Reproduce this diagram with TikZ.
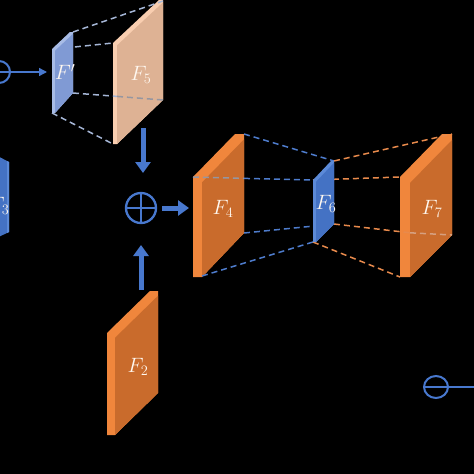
\documentclass[tikz,border=0pt]{standalone}
\usetikzlibrary{arrows.meta}
\definecolor{orside}{RGB}{240,134,60}
\definecolor{orfront}{RGB}{201,107,44}
\definecolor{blside}{RGB}{92,138,216}
\definecolor{blfront}{RGB}{68,114,196}
\definecolor{pcside}{RGB}{249,206,176}
\definecolor{pcfront}{RGB}{222,178,148}
\definecolor{ltside}{RGB}{168,188,230}
\definecolor{ltfront}{RGB}{128,154,212}
\definecolor{arrowblue}{RGB}{72,120,206}
\definecolor{dashblue}{RGB}{78,124,204}
\definecolor{dashorange}{RGB}{232,138,76}
\definecolor{dashlight}{RGB}{165,182,214}
\definecolor{dashgray}{RGB}{150,150,160}
\definecolor{dashfaceor}{RGB}{214,160,128}
\definecolor{labelwhite}{RGB}{255,248,240}
\newcommand\myslab[9]{%
  \fill[#8] (#1,#4) -- ({#3-(#2-#1)},#6) -- (#3,#6) -- (#3,#7) -- (#2,#5) -- (#1,#5) -- cycle;
  \fill[#9] (#2,{#4+0.6*(#2-#1)}) -- (#3,{#6+0.6*(#2-#1)}) -- (#3,#7) -- (#2,#5) -- cycle;}
\begin{document}
\begin{tikzpicture}[x=1pt,y=-1pt,
  dashl/.style={line width=1.5pt,dash pattern=on 6pt off 4pt},
  bigarrow/.style={line width=5pt,draw=arrowblue,-{Triangle[length=11pt,width=15pt,fill=arrowblue]}},
  thinarrow/.style={line width=1.4pt,draw=arrowblue,-{Triangle[length=8pt,width=8pt,fill=arrowblue]}},
  ring/.style={line width=2.3pt,draw=arrowblue},
  lab/.style={text=labelwhite,font=\fontsize{20}{24}\selectfont,inner sep=0pt}]
\useasboundingbox (0,0) rectangle (474,474);
\fill[black] (0,0) rectangle (474,474);

% ---------- F5 and F'
\myslab{113}{117}{163}{43}{144}{0}{100}{pcside}{pcfront}
\coordinate (p1) at (73,32);   \coordinate (q1) at (163,1);
\coordinate (p2) at (55,49);   \coordinate (q2) at (113,43);
\coordinate (p3) at (73,93);   \coordinate (q3m) at (117,96.4); \coordinate (q3) at (163,100);
\coordinate (p4) at (52,113);  \coordinate (q4) at (113,144);
\draw[dashl,dashlight] (p1) -- (q1);
\draw[dashl,dashlight] (p2) -- (q2);
\draw[dashl,dashlight] (p3) -- (q3m);
\draw[dashl,dashgray] (q3m) -- (q3);
\draw[dashl,dashlight] (p4) -- (q4);
\myslab{52}{55}{73}{49}{113}{32}{93}{ltside}{ltfront}
\node[lab] (fprime) at (65,72) {$F'$};
\node[lab] (f5) at (141,75) {$F_5$};

% ---------- F3 (cut off at the left edge, as in the reference)
\fill[blfront] (-12,151) -- (9,162) -- (9,232) -- (-12,242) -- cycle;
\fill[blside] (7,161) -- (9,162) -- (9,232) -- (7,233) -- cycle;
\node[lab] (f3) at (-1,206) {$F_3$};

% ---------- F4, F7, F6
\myslab{193}{202}{244}{177}{277}{134}{233}{orside}{orfront}
\myslab{400}{410}{452}{177}{277}{134}{235}{orside}{orfront}
\coordinate (a1) at (244,134); \coordinate (b1) at (334,161);
\coordinate (a2) at (193,177); \coordinate (a2m) at (244,178.4); \coordinate (b2) at (313,180);
\coordinate (a3) at (244,233); \coordinate (b3) at (334,224);
\coordinate (a4) at (202,276); \coordinate (b4) at (313,242);
\coordinate (c1) at (452,134);
\coordinate (c2) at (400,177);
\coordinate (c3m) at (410,232.8); \coordinate (c3) at (452,235);
\coordinate (c4) at (400,277);
\draw[dashl,dashgray] (a2) -- (a2m);
\draw[dashl,dashblue] (a2m) -- (b2);
\draw[dashl,dashblue] (a1) -- (b1);
\draw[dashl,dashblue] (a3) -- (b3);
\draw[dashl,dashblue] (a4) -- (b4);
\draw[dashl,dashorange] (b1) -- (c1);
\draw[dashl,dashorange] (b2) -- (c2);
\draw[dashl,dashorange] (b3) -- (c3m);
\draw[dashl,dashfaceor] (c3m) -- (c3);
\draw[dashl,dashorange] (b4) -- (c4);
\myslab{313}{316}{334}{180}{242}{161}{224}{blside}{blfront}
\node[lab] (f4) at (223,209) {$F_4$};
\node[lab] (f6) at (326,204) {$F_6$};
\node[lab] (f7) at (432,209) {$F_7$};

% ---------- F2
\myslab{107}{115}{158}{333}{435}{291}{393}{orside}{orfront}
\node[lab] (f2) at (138,367) {$F_2$};

% ---------- oplus and arrows
\coordinate (plus) at (141,208);
\draw[ring] (plus) circle (15);
\draw[ring] (126,208) -- (156,208);
\draw[ring] (141,193) -- (141,223);
\coordinate (d0) at (143,128); \coordinate (d1) at (143,173);
\coordinate (u0) at (141,290); \coordinate (u1) at (141,245);
\coordinate (r0) at (162,208); \coordinate (r1) at (189,208);
\draw[bigarrow] (d0) -- (d1);
\draw[bigarrow] (u0) -- (u1);
\draw[bigarrow] (r0) -- (r1);

% ---------- minus circles
\coordinate (m1) at (-1,72);
\draw[ring,line width=2pt] (m1) circle (11);
\coordinate (t1) at (47,72);
\draw[thinarrow] (m1) ++(-11,0) coordinate (m1l) -- (t1);
\coordinate (m2) at (436,387);
\draw[ring,line width=2pt] (m2) ellipse (12 and 11);
\coordinate (m2l) at (424,387); \coordinate (m2r) at (474,387);
\draw[line width=1.4pt,arrowblue] (m2l) -- (m2r);
\end{tikzpicture}
\end{document}
